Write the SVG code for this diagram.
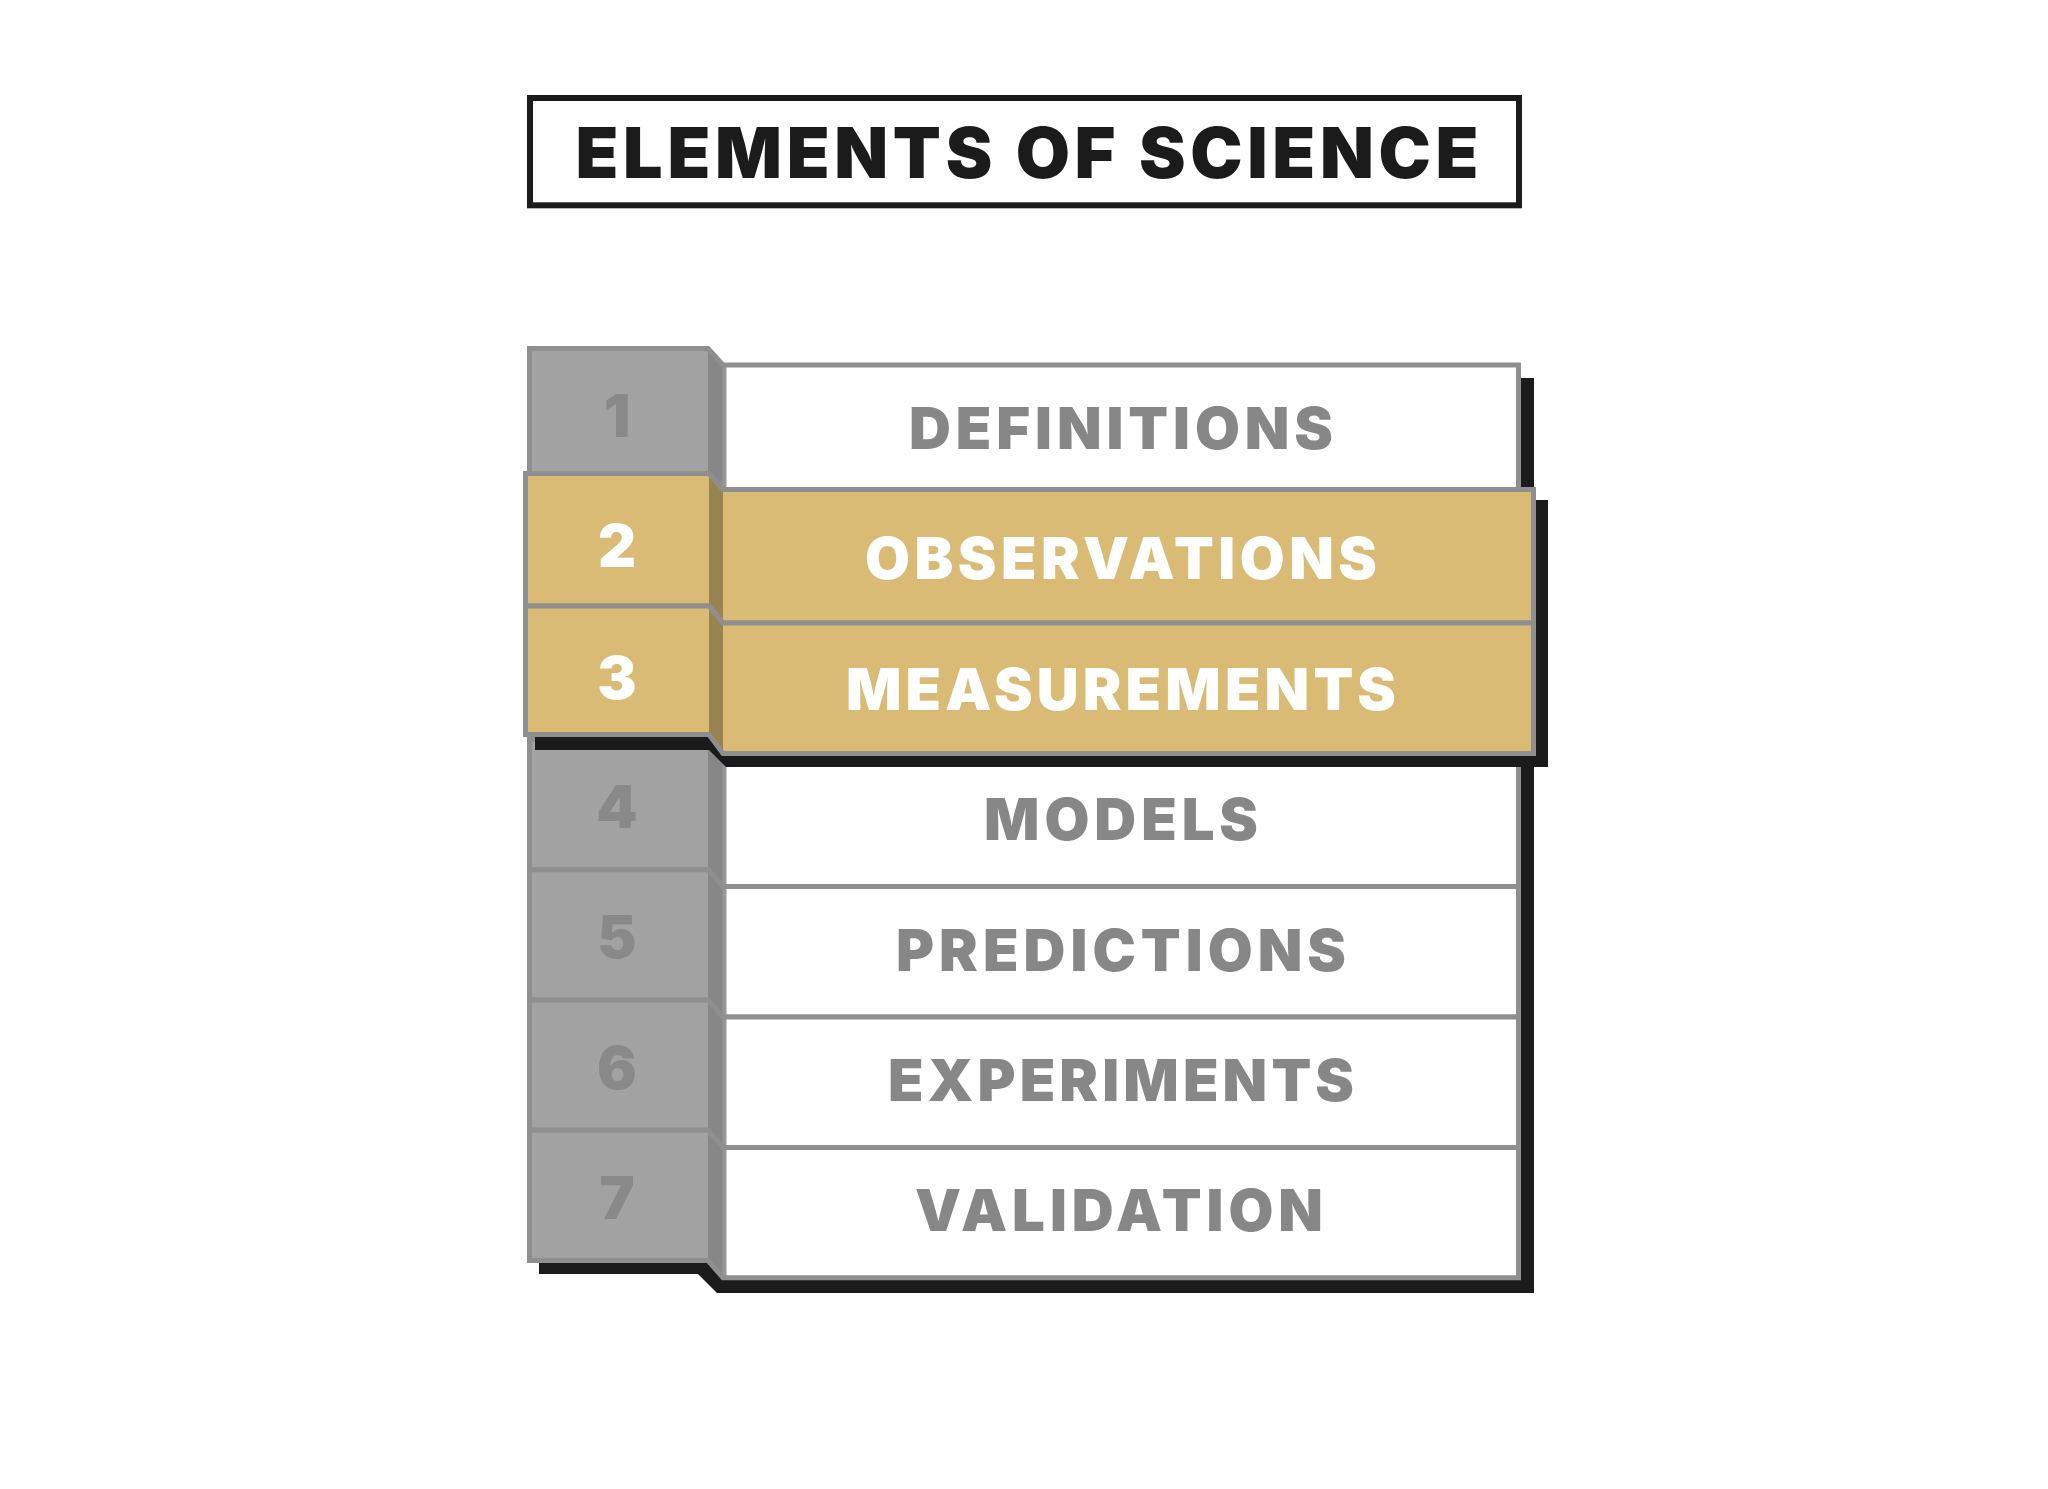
<svg xmlns="http://www.w3.org/2000/svg" width="2048" height="1489" viewBox="0 0 2048 1489">
<style>
.t{font-family:Inter,Roboto,"DejaVu Sans",sans-serif;font-weight:900;text-anchor:middle}
.title{font-size:70px;fill:#1b1b1b}
.lbl{font-size:58px;fill:#878787}
.lblw{font-size:58px;fill:#ffffff}
.num{font-size:59px;fill:#898989}
.numw{font-size:59px;fill:#ffffff}
.front{fill:#a2a2a2}
.side{fill:#878787}
.panel{fill:#ffffff}
.gfront{fill:#d9bb75}
.gside{fill:#988450}
.ol{fill:none;stroke:#8f8f8f;stroke-width:5}
.pl{stroke:#979797;stroke-width:4}
.sh{fill:#1b1b1b}
</style>
<rect x="0" y="0" width="2048" height="1489" fill="#ffffff"/>
<g id="title">
<rect x="530" y="98" width="989" height="107.3" fill="#ffffff" stroke="#1b1b1b" stroke-width="6"/>
<text class="t title" x="1027" y="178" textLength="903" lengthAdjust="spacing">ELEMENTS OF SCIENCE</text>
</g>
<g id="connectors"></g>
<g id="shadow-stack">
<polygon class="sh" points="539,1262 539,1274 698,1274 717,1293 1534,1293 1534,378 1520,378 1520,1279 722,1279 708,1262"/>
</g>
<g id="row1">
<rect class="front" x="529.5" y="348.5" width="178.5" height="130.3"/>
<polygon class="side" points="708,348.5 723,365 723,495.4 708,478.8"/>
<rect class="panel" x="723" y="365" width="795.5" height="130.4"/>
<line class="pl" x1="724.5" y1="365" x2="724.5" y2="495.4"/>
<path class="ol" d="M529.5,348.5 H708 L723,365 H1518.5 V495.4 H723 L708,478.8 H529.5 Z"/>
<text class="t num" x="617" y="437">1</text>
<text class="t lbl" x="1121" y="449" textLength="424" lengthAdjust="spacing">DEFINITIONS</text>
</g>
<g id="row4">
<rect class="front" x="529.5" y="739.4" width="178.5" height="130.3"/>
<polygon class="side" points="708,739.4 723,756.2 723,886.6 708,869.7"/>
<rect class="panel" x="723" y="756.2" width="795.5" height="130.4"/>
<line class="pl" x1="724.5" y1="756.2" x2="724.5" y2="886.6"/>
<path class="ol" d="M529.5,739.4 H708 L723,756.2 H1518.5 V886.6 H723 L708,869.7 H529.5 Z"/>
<text class="t num" x="617" y="827.9">4</text>
<text class="t lbl" x="1121" y="840.2" textLength="274" lengthAdjust="spacing">MODELS</text>
</g>
<g id="row5">
<rect class="front" x="529.5" y="869.7" width="178.5" height="130.3"/>
<polygon class="side" points="708,869.7 723,886.6 723,1017 708,1000"/>
<rect class="panel" x="723" y="886.6" width="795.5" height="130.4"/>
<line class="pl" x1="724.5" y1="886.6" x2="724.5" y2="1017"/>
<path class="ol" d="M529.5,869.7 H708 L723,886.6 H1518.5 V1017 H723 L708,1000 H529.5 Z"/>
<text class="t num" x="617" y="958.2">5</text>
<text class="t lbl" x="1121" y="970.6" textLength="450" lengthAdjust="spacing">PREDICTIONS</text>
</g>
<g id="row6">
<rect class="front" x="529.5" y="1000" width="178.5" height="130.3"/>
<polygon class="side" points="708,1000 723,1017 723,1147.4 708,1130.3"/>
<rect class="panel" x="723" y="1017" width="795.5" height="130.4"/>
<line class="pl" x1="724.5" y1="1017" x2="724.5" y2="1147.4"/>
<path class="ol" d="M529.5,1000 H708 L723,1017 H1518.5 V1147.4 H723 L708,1130.3 H529.5 Z"/>
<text class="t num" x="617" y="1088.5">6</text>
<text class="t lbl" x="1121" y="1101" textLength="466" lengthAdjust="spacing">EXPERIMENTS</text>
</g>
<g id="row7">
<rect class="front" x="529.5" y="1130.3" width="178.5" height="130.3"/>
<polygon class="side" points="708,1130.3 723,1147.4 723,1277.8 708,1260.6"/>
<rect class="panel" x="723" y="1147.4" width="795.5" height="130.4"/>
<line class="pl" x1="724.5" y1="1147.4" x2="724.5" y2="1277.8"/>
<path class="ol" d="M529.5,1130.3 H708 L723,1147.4 H1518.5 V1277.8 H723 L708,1260.6 H529.5 Z"/>
<text class="t num" x="617" y="1218.8">7</text>
<text class="t lbl" x="1119" y="1231.4" textLength="408" lengthAdjust="spacing">VALIDATION</text>
</g>
<g id="shadow-highlight">
<polygon class="sh" points="535,736 535,750 709,750 726,767 1548,767 1548,500 1535,500 1535,755 722,755 708,736"/>
</g>
<g id="row2">
<rect class="gfront" x="525.5" y="473.5" width="183.5" height="132.5"/>
<polygon class="gside" points="709,473.5 723,489.5 723,623 709,606"/>
<rect class="gfront" x="723" y="489.5" width="810.5" height="133.5"/>
<path class="ol" d="M525.5,473.5 H709 L723,489.5 H1533.5 V623 H723 L709,606 H525.5 Z"/>
<text class="t numw" x="617" y="567.3">2</text>
<text class="t lblw" x="1121" y="579.4" textLength="512" lengthAdjust="spacing">OBSERVATIONS</text>
</g>
<g id="row3">
<rect class="gfront" x="525.5" y="606" width="183.5" height="128.5"/>
<polygon class="gside" points="709,606 723,623 723,753.5 709,734.5"/>
<rect class="gfront" x="723" y="623" width="810.5" height="130.5"/>
<path class="ol" d="M525.5,606 H709 L723,623 H1533.5 V753.5 H723 L709,734.5 H525.5 Z"/>
<text class="t numw" x="617" y="699">3</text>
<text class="t lblw" x="1121" y="709.8" textLength="550" lengthAdjust="spacing">MEASUREMENTS</text>
</g>
</svg>
